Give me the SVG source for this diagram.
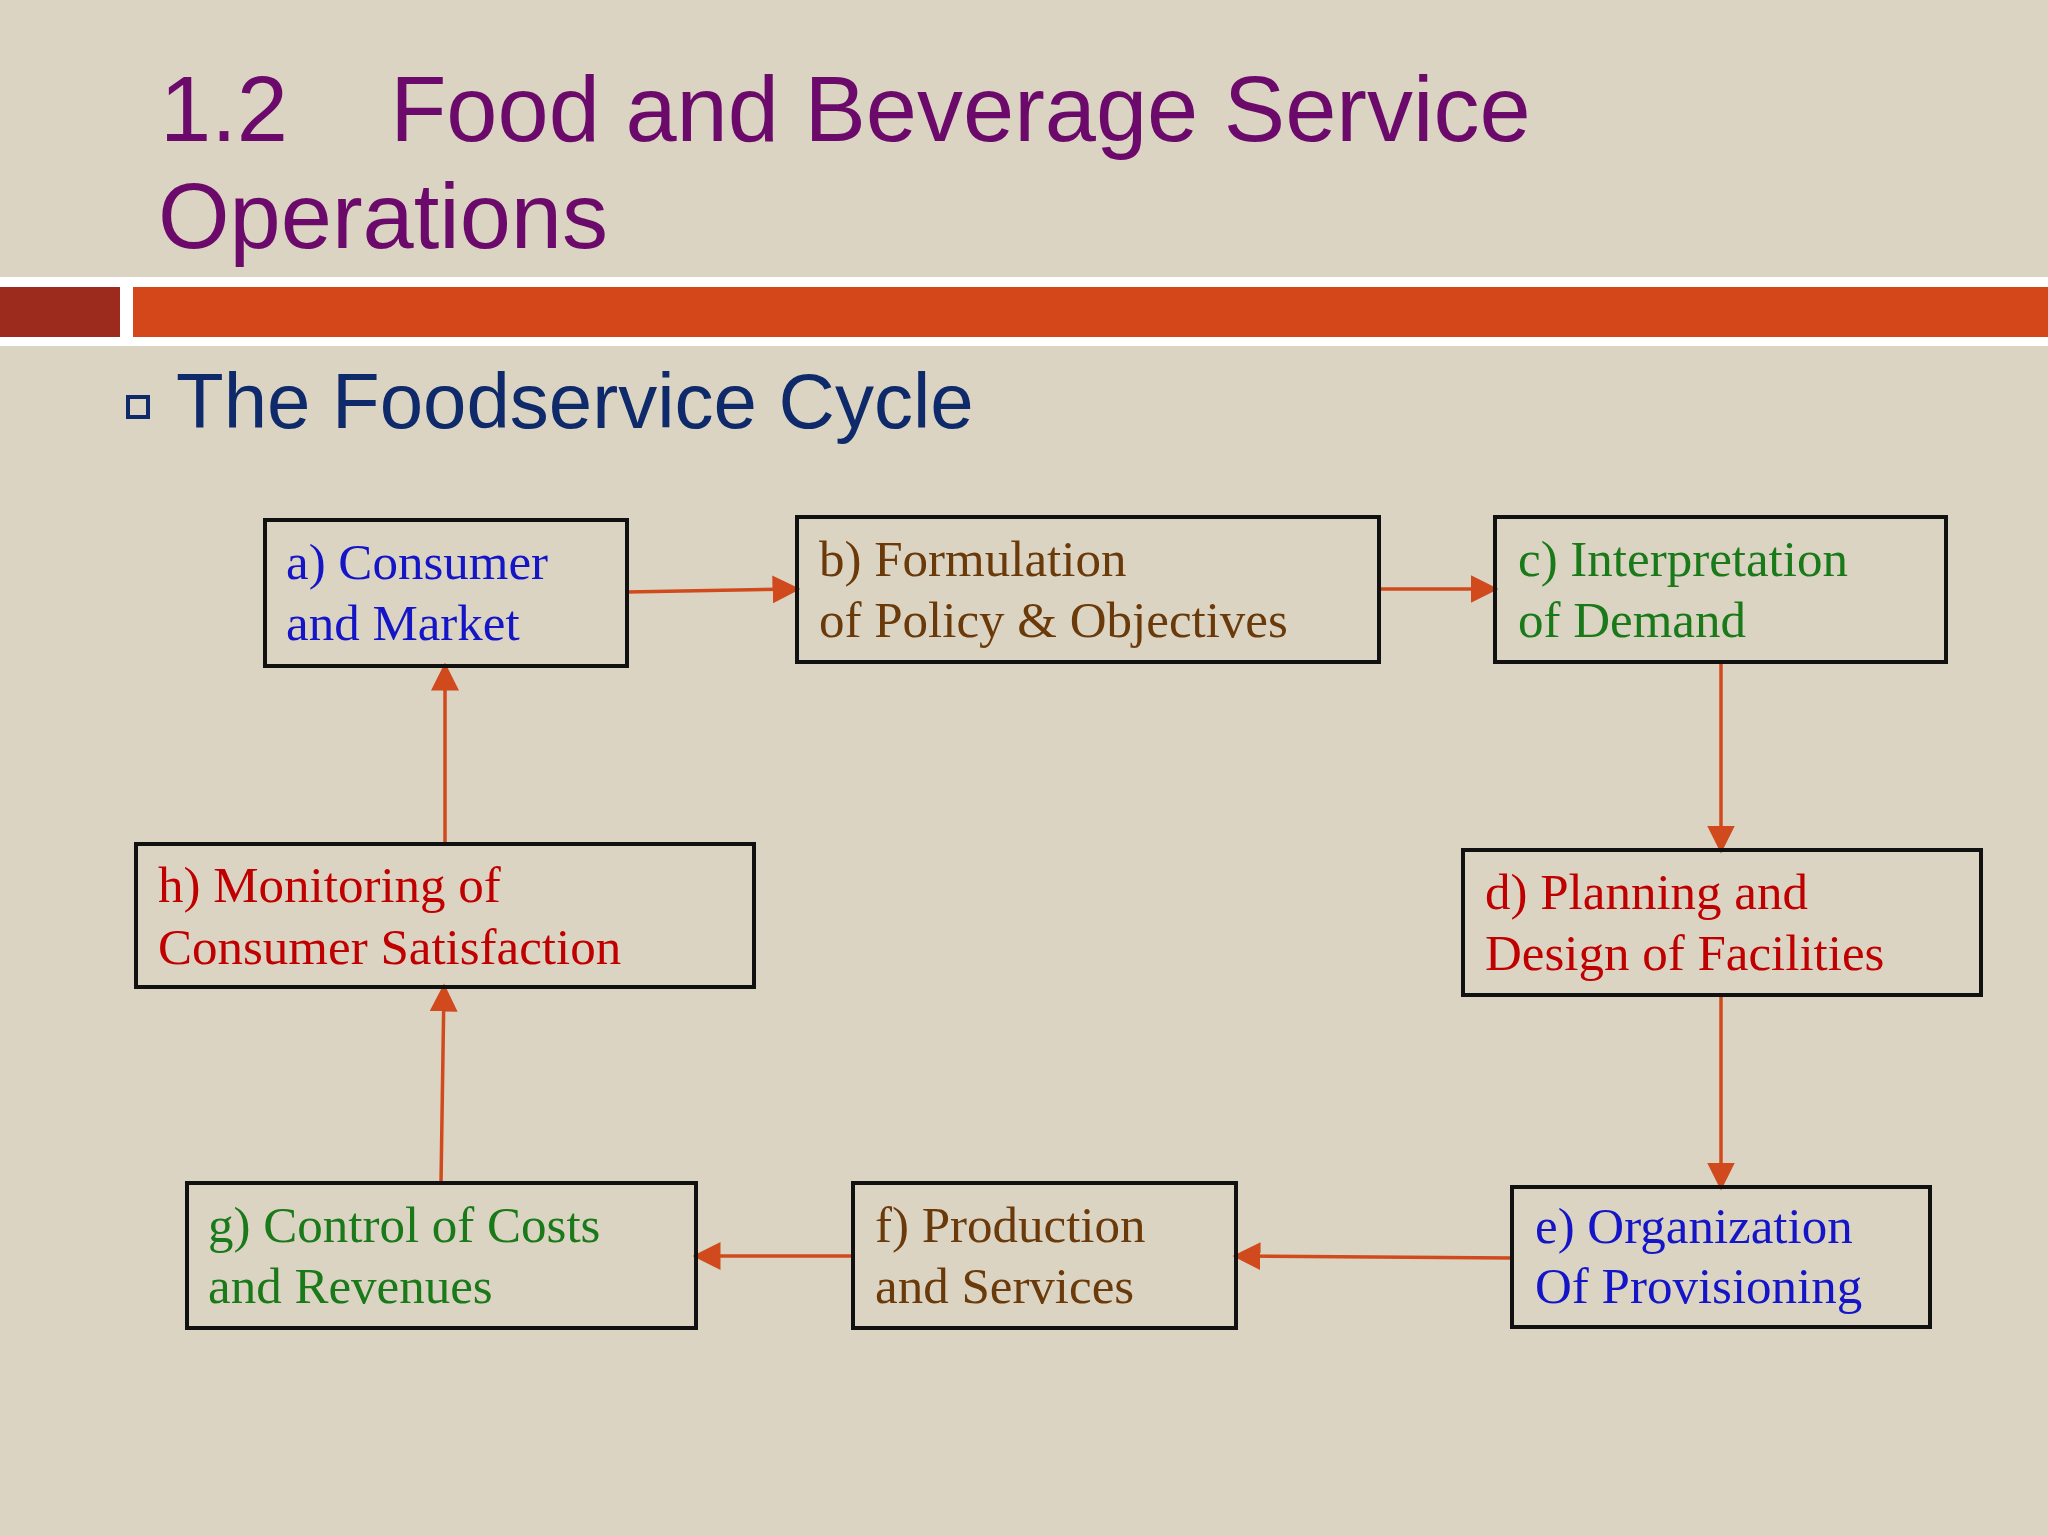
<svg xmlns="http://www.w3.org/2000/svg" width="2048" height="1536" viewBox="0 0 2048 1536">
<style>
.box{fill:none;stroke:#111;stroke-width:4}
.t{font-family:"Liberation Serif",serif;font-size:51px}
.c{stroke:#D04A1E;stroke-width:3.5;fill:none;marker-end:url(#ah)}
</style>
<defs>
<marker id="ah" markerWidth="8" markerHeight="8" refX="7" refY="4" orient="auto" markerUnits="strokeWidth"><path d="M0,0 L8,4 L0,8 Z" fill="#D04A1E"/></marker>
</defs>
<rect width="2048" height="1536" fill="#DCD4C3"/>
<text x="160" y="141" font-family="Liberation Sans,sans-serif" font-size="92" fill="#6B0A6B" xml:space="preserve">1.2    Food and Beverage Service</text>
<text x="158" y="248" font-family="Liberation Sans,sans-serif" font-size="92" fill="#6B0A6B">Operations</text>
<rect x="0" y="277" width="2048" height="69" fill="#fff"/>
<rect x="0" y="287" width="120" height="50" fill="#9C2B1E"/>
<rect x="133" y="287" width="1915" height="50" fill="#D4471A"/>
<rect x="128" y="397" width="20" height="20" fill="none" stroke="#0E2A6B" stroke-width="4"/>
<text x="176" y="428" font-family="Liberation Sans,sans-serif" font-size="78" fill="#0E2A6B">The Foodservice Cycle</text>
<g id="connectors">
<path class="c" d="M627,592 L797,589"/>
<path class="c" d="M1379,589 L1495,589"/>
<path class="c" d="M1721,662 L1721,850"/>
<path class="c" d="M1721,995 L1721,1187"/>
<path class="c" d="M1512,1258 L1236,1256"/>
<path class="c" d="M853,1256 L696,1256"/>
<path class="c" d="M441,1183 L444,987"/>
<path class="c" d="M445,844 L445,666"/>
</g>
<g id="a"><rect class="box" x="265" y="520" width="362" height="146"/><text class="t" fill="#1515C8"><tspan x="286" y="579">a) Consumer</tspan><tspan x="286" y="640">and Market</tspan></text></g>
<g id="b"><rect class="box" x="797" y="517" width="582" height="145"/><text class="t" fill="#6B3A0A"><tspan x="819" y="576">b) Formulation</tspan><tspan x="819" y="637">of Policy &amp; Objectives</tspan></text></g>
<g id="c"><rect class="box" x="1495" y="517" width="451" height="145"/><text class="t" fill="#1A7A1A"><tspan x="1518" y="576">c) Interpretation</tspan><tspan x="1518" y="637">of Demand</tspan></text></g>
<g id="d"><rect class="box" x="1463" y="850" width="518" height="145"/><text class="t" fill="#C00000"><tspan x="1485" y="909">d) Planning and</tspan><tspan x="1485" y="970">Design of Facilities</tspan></text></g>
<g id="e"><rect class="box" x="1512" y="1187" width="418" height="140"/><text class="t" fill="#1515C8" font-size="48"><tspan x="1535" y="1243">e) Organization</tspan><tspan x="1535" y="1303">Of Provisioning</tspan></text></g>
<g id="f"><rect class="box" x="853" y="1183" width="383" height="145"/><text class="t" fill="#6B3A0A"><tspan x="875" y="1242">f) Production</tspan><tspan x="875" y="1303">and Services</tspan></text></g>
<g id="g"><rect class="box" x="187" y="1183" width="509" height="145"/><text class="t" fill="#1A7A1A"><tspan x="208" y="1242">g) Control of Costs</tspan><tspan x="208" y="1303">and Revenues</tspan></text></g>
<g id="h"><rect class="box" x="136" y="844" width="618" height="143"/><text class="t" fill="#C00000"><tspan x="158" y="902">h) Monitoring of</tspan><tspan x="158" y="964">Consumer Satisfaction</tspan></text></g>
</svg>
